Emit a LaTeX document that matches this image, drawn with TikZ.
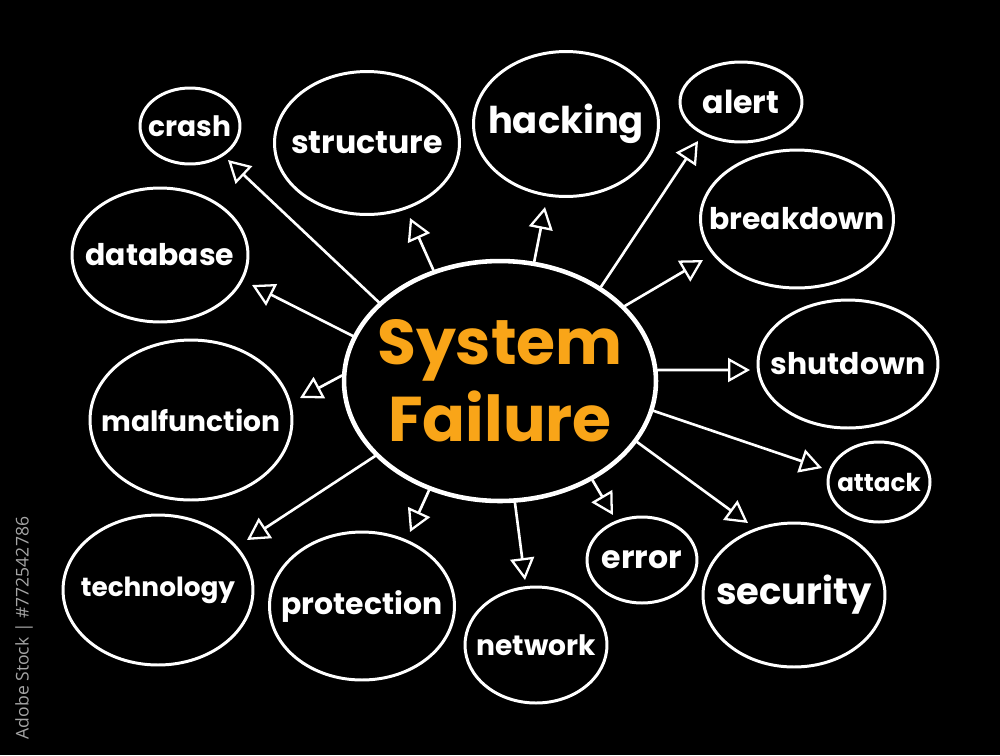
\documentclass[tikz,border=0pt]{standalone}
\usepackage{fontspec}
\setmainfont{Poppins}
\newfontfamily\markfont{Open Sans}
\usetikzlibrary{shapes.geometric,arrows.meta}
\definecolor{sforange}{RGB}{249,165,24}
\definecolor{markgray}{RGB}{165,165,165}

\begin{document}
\begin{tikzpicture}[x=0.02cm, y=-0.02cm,
    bubble/.style={ellipse, draw=white, line width=1.7pt, inner sep=0pt},
    word/.style={text=white, font=\bfseries\fontsize{#1}{#1}\selectfont},
    spoke/.style={white, line width=1.5pt, line cap=round,
        -{Triangle[open, length=0.44cm, width=0.48cm, line width=1.3pt]}}]
        % Achtergrond
        \fill[black] (0,0) rectangle (1000,755);
        \useasboundingbox (0,0) rectangle (1000,755);

        % Centrale ellips
        \node[ellipse, draw=white, line width=2.6pt, inner sep=0pt,
              minimum width=6.24cm, minimum height=4.8cm,
              label={[align=center, text=sforange,
                      font=\bfseries\fontsize{36}{44}\selectfont]center:System\\Failure}]
              (sf) at (500,381) {};

        % Ellipsen rondom
        \node[bubble, minimum width=2cm, minimum height=1.52cm,
              label={[word=16]center:crash}] (crash) at (190,126) {};
        \node[bubble, minimum width=3.7cm, minimum height=2.86cm,
              label={[word=18]center:structure}] (structure) at (367,143) {};
        \node[bubble, minimum width=3.7cm, minimum height=2.9cm,
              label={[word=21]center:hacking}] (hacking) at (566,124) {};
        \node[bubble, minimum width=2.44cm, minimum height=1.6cm,
              label={[word=18]center:alert}] (alert) at (741,102) {};
        \node[bubble, minimum width=3.86cm, minimum height=2.76cm,
              label={[word=17]center:breakdown}] (breakdown) at (797,219) {};
        \node[bubble, minimum width=3.52cm, minimum height=2.68cm,
              label={[word=17]center:database}] (database) at (160,255) {};
        \node[bubble, minimum width=3.6cm, minimum height=2.56cm,
              label={[word=17]center:shutdown}] (shutdown) at (848,364) {};
        \node[bubble, minimum width=4.04cm, minimum height=3.2cm,
              label={[word=16]center:malfunction}] (malfunction) at (191,420) {};
        \node[bubble, minimum width=2.04cm, minimum height=1.6cm,
              label={[word=14]center:attack}] (attack) at (879,482) {};
        \node[bubble, minimum width=3.8cm, minimum height=3cm,
              label={[word=15]center:technology}] (technology) at (158,590) {};
        \node[bubble, minimum width=3.7cm, minimum height=2.96cm,
              label={[word=17]center:protection}] (protection) at (362,606) {};
        \node[bubble, minimum width=2.84cm, minimum height=2.32cm,
              label={[word=16]center:network}] (network) at (536,645) {};
        \node[bubble, minimum width=2.2cm, minimum height=1.72cm,
              label={[word=18]center:error}] (error) at (642,560) {};
        \node[bubble, minimum width=3.64cm, minimum height=2.88cm,
              label={[word=21]center:security}] (security) at (794,595) {};

        % Pijlpunten
        \coordinate (tcrash) at (228,160);
        \coordinate (tstructure) at (410,218);
        \coordinate (thacking) at (545,207);
        \coordinate (talert) at (698,141);
        \coordinate (tbreakdown) at (703,260);
        \coordinate (tdatabase) at (252,285);
        \coordinate (tshutdown) at (750,370);
        \coordinate (tmalfunction) at (300,398);
        \coordinate (tattack) at (822,468);
        \coordinate (ttechnology) at (247,540);
        \coordinate (tprotection) at (410,532);
        \coordinate (tnetwork) at (525,580);
        \coordinate (terror) at (613,515);
        \coordinate (tsecurity) at (748,523);

        % Pijlen
        \draw[spoke] (sf.147) -- (tcrash);
        \draw[spoke] (sf.121) -- (tstructure);
        \draw[spoke] (sf.74) -- (thacking);
        \draw[spoke] (sf.43) -- (talert);
        \draw[spoke] (sf.31) -- (tbreakdown);
        \draw[spoke] (sf.163) -- (tdatabase);
        \draw[spoke] (sf.4) -- (tshutdown);
        \draw[spoke] (sf.178) -- (tmalfunction);
        \draw[spoke] (sf.-11) -- (tattack);
        \draw[spoke] (sf.211) -- (ttechnology);
        \draw[spoke] (sf.237) -- (tprotection);
        \draw[spoke] (sf.277) -- (tnetwork);
        \draw[spoke] (sf.313) -- (terror);
        \draw[spoke] (sf.336) -- (tsecurity);

        % Watermerk
        \node[rotate=90, text=markgray, font=\markfont\fontsize{10}{10}\selectfont]
              (mark) at (24,628) {Adobe Stock | \#772542786};
\end{tikzpicture}
\end{document}
